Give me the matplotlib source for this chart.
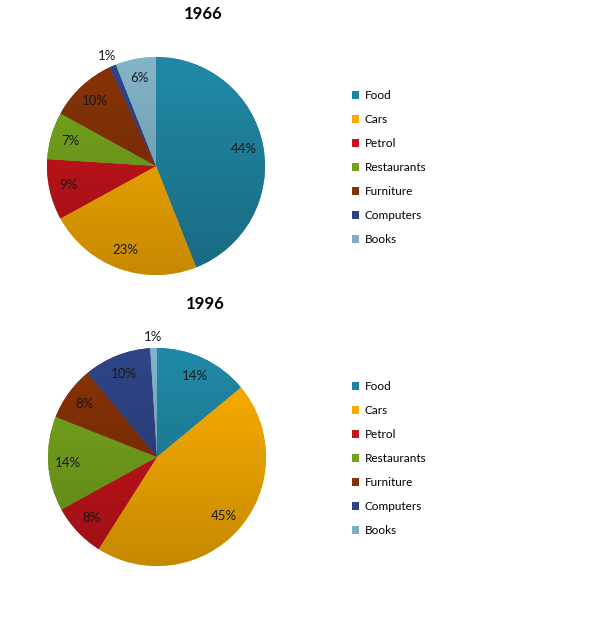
import numpy as np
import matplotlib
matplotlib.use("Agg")
from matplotlib import pyplot as plt
from matplotlib.colors import to_rgb

categories = ["Food", "Cars", "Petrol", "Restaurants", "Furniture", "Computers", "Books"]
share_1966 = [44, 23, 9, 7, 10, 1, 6]
share_1996 = [14, 45, 8, 14, 8, 10, 1]
colors = ["#1f84a0", "#f7ab00", "#c4141b", "#74a21d", "#833106", "#2e4283", "#7eaec2"]

plt.rcParams['font.family'] = ['Lato', 'DejaVu Sans']

W, H = 596, 622
fig = plt.figure(figsize=(W / 100, H / 100), dpi=100)
fig.patch.set_facecolor('white')


def shade(color, n=200):
    # vertical gradient, lighter at top, darker at bottom (Excel look)
    c = np.array(to_rgb(color))
    t = np.linspace(1.04, 0.80, n)[:, None, None]
    return np.clip(c[None, None, :] * t, 0, 1)


def draw_pie(cx, cy, r, values, title, title_xy, legend_xy):
    ax = fig.add_axes([(cx - r) / W, 1 - (cy + r) / H, 2 * r / W, 2 * r / H])
    wedges, texts, autotexts = ax.pie(
        values, colors=colors, startangle=90, counterclock=False,
        autopct='%d%%', pctdistance=0.82, radius=1.0,
        wedgeprops=dict(linewidth=0),
        textprops=dict(fontsize=9.5, color='#1a1a1a'))
    for w in wedges:
        im = ax.imshow(shade(w.get_facecolor()), extent=(-1, 1, -1, 1),
                       aspect='auto', origin='upper', zorder=2)
        im.set_clip_path(w)
    # small slices: label goes outside
    for w, t, v in zip(wedges, autotexts, values):
        t.set_zorder(5)
        if v <= 1:
            ang = np.deg2rad((w.theta1 + w.theta2) / 2)
            t.set_position((1.12 * np.cos(ang), 1.1 * np.sin(ang)))
    ax.set_xlim(-1, 1)
    ax.set_ylim(-1, 1)
    ax.axis('off')
    fig.text(title_xy[0] / W, 1 - title_xy[1] / H, title, ha='center', va='center',
             fontsize=12, fontweight='bold', color='black')
    fig.legend(wedges, categories, loc='upper left',
               bbox_to_anchor=(legend_xy[0] / W, 1 - legend_xy[1] / H),
               frameon=False, fontsize=8.5, handlelength=0.62, handleheight=0.62,
               handletextpad=0.45, labelspacing=1.1, borderaxespad=0, borderpad=0)


draw_pie(156, 166, 109, share_1966, "1966", (203, 14), (352, 90))
draw_pie(157, 457, 109, share_1996, "1996", (205, 304), (352, 381))

fig.savefig("out.png", dpi=100)
